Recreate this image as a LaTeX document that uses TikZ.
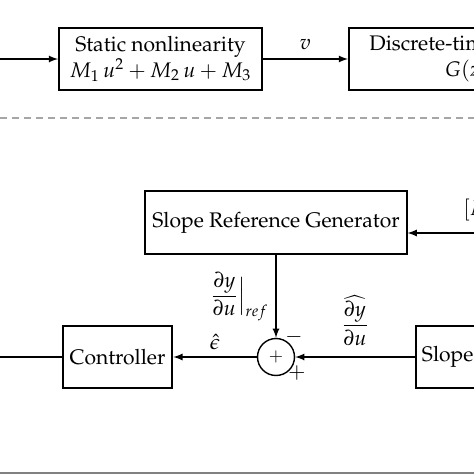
\documentclass[12pt,tikz,border=0pt]{standalone}
\usepackage{amsmath}
\usepackage[T1]{fontenc}
\usepackage{mathpazo}
\usetikzlibrary{arrows}
\begin{document}
\begin{tikzpicture}[x=0.02cm,y=-0.02cm,>=latex,
    block/.style={shape=rectangle,draw=black,line width=1.1pt,minimum height=1.24cm,align=center},
    sigline/.style={thick}]
    \useasboundingbox (0,0) rectangle (474,474);
    \clip (0,0) rectangle (474,474);
    % plant
    \coordinate (in) at (0,59);
    \node[block,minimum width=4.06cm] (stat) at (160.5,59) {Static nonlinearity\\ $M_1\,u^2+M_2\,u+M_3$};
    \node[block,anchor=west,minimum width=4.72cm] (lti) at (348,59) {Discrete-time system\\ $G(z)$};
    \path [->] (in) edge[sigline] node[] {} (stat);
    \path [->] (stat) edge[sigline] node[above=1pt] {$v$} (lti);
    \draw[gray!70,line width=1.1pt,dash pattern=on 0.14cm off 0.1cm] (0,118) -- (474,118);
    % slope loop
    \node[block,minimum width=5.2cm,minimum height=1.26cm] (srg) at (276,222.5) {Slope Reference Generator};
    \node[shape=circle,draw=black,thick,minimum size=0.74cm,inner sep=0pt,font=\footnotesize] (sum) at (276,357) {$+$};
    \node[block,minimum width=2.18cm] (ctrl) at (117.5,357) {Controller};
    \node[block,anchor=west,inner xsep=0.12cm] (est) at (415,357) {Slope Estimator};
    \coordinate (mhat) at (540,233);
    \coordinate (out) at (0,357);
    \node[anchor=south west] (mlab) at (456,228) {$[\hat{M}_1,\hat{M}_2,\hat{M}_3]$};
    \node[] (minus) at (294,337) {$-$};
    \node[] (plus) at (297,373) {$+$};
    \path [->] (mhat) edge[sigline] node[] {} (srg.east |- mhat);
    \path [->] (srg) edge[sigline] node[left] {$\dfrac{\partial y}{\partial u}\Big|_{ref}$} (sum);
    \path [->] (est) edge[sigline] node[above=2pt] {$\widehat{\dfrac{\partial y}{\partial u}}$} (sum);
    \path [->] (sum) edge[sigline] node[above] {$\hat{\epsilon}$} (ctrl);
    \path [-] (ctrl) edge[sigline] node[] {} (out);
    \fill[gray] (0,472) rectangle (474,474);
\end{tikzpicture}
\end{document}
